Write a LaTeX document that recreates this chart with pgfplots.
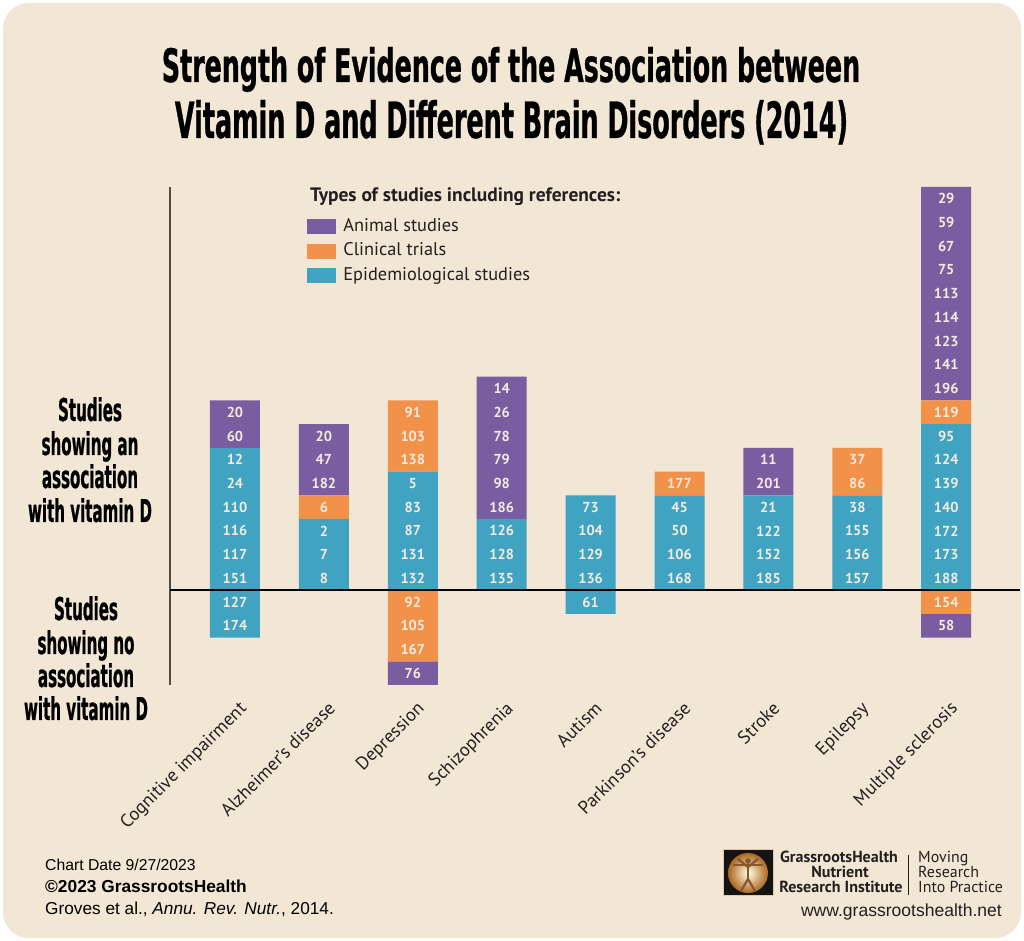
\documentclass[border=0pt]{standalone}
\usepackage{pgfplots}
\usepackage{pgfplotstable}
\pgfplotsset{compat=1.18}
\usepackage{fontspec}
\setmainfont{PT Sans}
\newfontfamily\arialfont{Liberation Sans}
\newfontfamily\condfont{DejaVu Sans}[UprightFont=* Bold, FakeStretch=0.48, FakeBold=0.6]

\definecolor{bg}{HTML}{F1E7D4}
\definecolor{animal}{HTML}{7A5CA0}
\definecolor{clinical}{HTML}{F2914A}
\definecolor{epi}{HTML}{40A3C1}
\definecolor{celltxt}{HTML}{F3EBDD}
\definecolor{ink}{HTML}{231F20}

% number of studies per disorder (one cell per reference)
\pgfplotstableread{
x epi cli ani
0 6 0 2
1 3 1 3
2 5 3 0
3 3 0 6
4 4 0 0
5 4 1 0
6 4 0 2
7 4 2 0
8 7 1 9
}\assoc
\pgfplotstableread{
x epi cli ani
0 -2 0 0
1 0 0 0
2 0 -3 -1
3 0 0 0
4 -1 0 0
5 0 0 0
6 0 0 0
7 0 0 0
8 0 -1 -1
}\noassoc
% reference numbers written in each cell (cell centre)
\pgfplotstableread{
x y lab
0 0.5 151
0 1.5 117
0 2.5 116
0 3.5 110
0 4.5 24
0 5.5 12
0 6.5 60
0 7.5 20
0 -0.5 127
0 -1.5 174
1 0.5 8
1 1.5 7
1 2.5 2
1 3.5 6
1 4.5 182
1 5.5 47
1 6.5 20
2 0.5 132
2 1.5 131
2 2.5 87
2 3.5 83
2 4.5 5
2 5.5 138
2 6.5 103
2 7.5 91
2 -0.5 92
2 -1.5 105
2 -2.5 167
2 -3.5 76
3 0.5 135
3 1.5 128
3 2.5 126
3 3.5 186
3 4.5 98
3 5.5 79
3 6.5 78
3 7.5 26
3 8.5 14
4 0.5 136
4 1.5 129
4 2.5 104
4 3.5 73
4 -0.5 61
5 0.5 168
5 1.5 106
5 2.5 50
5 3.5 45
5 4.5 177
6 0.5 185
6 1.5 152
6 2.5 122
6 3.5 21
6 4.5 201
6 5.5 11
7 0.5 157
7 1.5 156
7 2.5 155
7 3.5 38
7 4.5 86
7 5.5 37
8 0.5 188
8 1.5 173
8 2.5 172
8 3.5 140
8 4.5 139
8 5.5 124
8 6.5 95
8 7.5 119
8 8.5 196
8 9.5 141
8 10.5 123
8 11.5 114
8 12.5 113
8 13.5 75
8 14.5 67
8 15.5 59
8 16.5 29
8 -0.5 154
8 -1.5 58
}\reflabels

\pgfplotsset{
  frame/.style={
    at={(170bp,256bp)}, anchor=south west,
    scale only axis, width=850bp, height=498bp,
    xmin=-0.731, xmax=8.83, ymin=-4, ymax=17,
    axis line style={draw=none}, ytick=\empty, xtick=\empty,
    clip=false,
  },
}

\begin{document}
\begin{tikzpicture}[x=1bp,y=1bp]
\useasboundingbox (0,0) rectangle (1024,941);
\fill[white] (0,0) rectangle (1024,941);
\fill[bg, rounded corners=26bp] (3,3) rectangle (1021,938);

% title
\node[anchor=base] at (511,859) {\resizebox{698bp}{35bp}{\condfont Strength of Evidence of the Association between}};
\node[anchor=base] at (511.5,803) {\resizebox{673bp}{38bp}{\condfont Vitamin D and Different Brain Disorders (2014)}};

% side labels
\foreach \t/\yy in {Studies/520, showing an/486, association/453, with vitamin D/419}
  \node[anchor=base, inner sep=0pt, font=\condfont\fontsize{31.5}{33}\selectfont] at (90,\yy) {\t};
\foreach \t/\yy in {Studies/321, showing no/287, association/254, with vitamin D/221}
  \node[anchor=base, inner sep=0pt, font=\condfont\fontsize{31.5}{33}\selectfont] at (86,\yy) {\t};

% bars above the line
\begin{axis}[frame, ybar stacked, bar width=50bp,
  xtick={0,...,8},
  xticklabels={Cognitive impairment, Alzheimer’s disease, Depression, Schizophrenia, Autism, Parkinson’s disease, Stroke, Epilepsy, Multiple sclerosis},
  xtick style={draw=none},
  xticklabel style={xshift=3bp, yshift=-15bp, rotate=45, anchor=north east, inner sep=0pt,
    font=\fontsize{18.5}{20}\selectfont, text=ink},
]
\addplot[fill=epi, draw=none] table[x=x, y=epi] {\assoc};
\addplot[fill=clinical, draw=none] table[x=x, y=cli] {\assoc};
\addplot[fill=animal, draw=none] table[x=x, y=ani] {\assoc};
\end{axis}

% bars below the line
\begin{axis}[frame, ybar stacked, bar width=50bp]
\addplot[fill=epi, draw=none] table[x=x, y=epi] {\noassoc};
\addplot[fill=clinical, draw=none] table[x=x, y=cli] {\noassoc};
\addplot[fill=animal, draw=none] table[x=x, y=ani] {\noassoc};
\end{axis}

% cell numbers, axis lines, legend
\begin{axis}[frame,
  legend style={at={(0.1612,0.9357)}, anchor=north west, draw=none, fill=none,
    inner sep=0pt, outer sep=0pt, row sep=9.5bp,
    font=\fontsize{18.4}{20}\selectfont, text=ink,
    nodes={inner sep=0pt, text height=12bp, text depth=3bp}},
  legend cell align=left,
]
\addplot[forget plot, only marks, mark=none, point meta=explicit symbolic,
  nodes near coords,
  every node near coord/.append style={anchor=center, text=celltxt,
    font=\bfseries\fontsize{14.5}{16}\selectfont}]
  table[x=x, y=y, meta=lab] {\reflabels};
\draw[black!70, line width=1.3bp] (axis cs:-0.731,-4) -- (axis cs:-0.731,17);
\draw[black, line width=1.4bp] (axis cs:-0.731,0) -- (axis cs:8.83,0);
\addlegendimage{legend image code/.code={\fill[animal] (0bp,-7bp) rectangle (28bp,7bp);}}
\addlegendentry{\hspace{8bp}Animal studies}
\addlegendimage{legend image code/.code={\fill[clinical] (0bp,-7bp) rectangle (28bp,7bp);}}
\addlegendentry{\hspace{8bp}Clinical trials}
\addlegendimage{legend image code/.code={\fill[epi] (0bp,-7bp) rectangle (28bp,7bp);}}
\addlegendentry{\hspace{8bp}Epidemiological studies}
\end{axis}

\node[anchor=base west, inner sep=0pt, text=ink, font=\bfseries\fontsize{19.5}{21}\selectfont] at (310,739) {Types of studies including references:};

% footer, left
\node[anchor=base west, inner sep=0pt, font=\arialfont\fontsize{15.8}{17}\selectfont] at (45,70) {Chart Date 9/27/2023};
\node[anchor=base west, inner sep=0pt, font=\arialfont\bfseries\fontsize{17.4}{19}\selectfont] at (45,48) {©2023 GrassrootsHealth};
\node[anchor=base west, inner sep=0pt, font=\arialfont\fontsize{17.3}{19}\selectfont] at (45,26) {Groves et al., \textit{Annu. Rev. Nutr.}, 2014.};

% footer, right: institute mark
\fill[black!92] (723,45) rectangle (773,91);
\draw[bg!70!brown, line width=1bp] (723,45) rectangle (773,91);
\shade[inner color=white!90!yellow, outer color=brown!60!orange!80!black] (748,68) circle (20);
\begin{scope}[draw=brown!70!black, line width=2.2bp, line cap=round]
  \fill[brown!70!black] (748,80) circle (2.8);
  \draw (748,77) -- (748,62);
  \draw (734,76) -- (762,76);
  \draw (748,62) -- (741,50);
  \draw (748,62) -- (755,50);
  \draw (738,82) -- (748,74) -- (758,82);
\end{scope}
\node[inner sep=0pt, anchor=base, font=\bfseries\fontsize{16.1}{16}\selectfont, text=ink] at (839,78) {GrassrootsHealth};
\node[inner sep=0pt, anchor=base, font=\bfseries\fontsize{16.1}{16}\selectfont, text=ink] at (840,63) {Nutrient};
\node[inner sep=0pt, anchor=base, font=\bfseries\fontsize{16.1}{16}\selectfont, text=ink] at (841,48) {Research Institute};
\draw[ink, line width=1bp] (908,86) -- (908,46);
\node[inner sep=0pt, anchor=base west, font=\fontsize{16}{16}\selectfont, text=ink] at (918,78) {Moving};
\node[inner sep=0pt, anchor=base west, font=\fontsize{16}{16}\selectfont, text=ink] at (918,63) {Research};
\node[inner sep=0pt, anchor=base west, font=\fontsize{16}{16}\selectfont, text=ink] at (918,48) {Into Practice};
\node[inner sep=0pt, anchor=base east, font=\arialfont\fontsize{17.6}{19}\selectfont, text=ink] at (1002,24) {www.grassrootshealth.net};
\end{tikzpicture}
\end{document}
